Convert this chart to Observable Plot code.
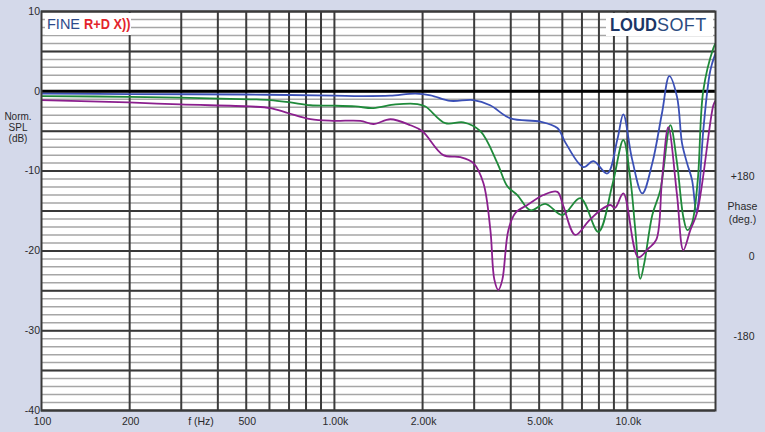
<!DOCTYPE html>
<html>
<head>
<meta charset="utf-8">
<script src="https://cdn.jsdelivr.net/npm/d3@7"></script>
<script src="https://cdn.jsdelivr.net/npm/@observablehq/plot@0.6"></script>
<style>
  html, body { margin: 0; padding: 0; background: #d4d9ea; }
  #wrap { position: relative; width: 765px; height: 432px; font-family: "Liberation Sans", Arial, sans-serif; }
  .logo { position: absolute; background: #ffffff; overflow: hidden; white-space: nowrap; }
  .logo span { position: absolute; }
</style>
</head>
<body>
<div id="wrap"></div>
<script>
// ---- Data ----
const blueFreq = [100, 200, 500, 1000, 1230, 1550, 1890, 2130, 2490, 2980, 3400, 3990, 5050, 5770, 6140, 7080, 7660, 8540, 9250, 9690, 10380, 11250, 12170, 13130, 13910, 14780, 15370, 15990, 16630, 17200, 17470, 18170, 19200, 20000];
const blueDb   = [-0.3, -0.35, -0.4, -0.55, -0.6, -0.55, -0.3, -0.5, -1.2, -1.1, -1.75, -3.4, -3.8, -4.6, -6.4, -9.5, -8.75, -10.3, -6.0, -2.9, -8.5, -12.8, -9.0, -2.75, 1.9, -0.7, -6.5, -9.0, -11.1, -15.2, -14.0, -4.9, 2.6, 4.75];

const greenFreq = [100, 200, 517, 605, 708, 828, 992, 1180, 1359, 1616, 1920, 2045, 2392, 2756, 3150, 3600, 3894, 4213, 4666, 5250, 6000, 6911, 7962, 8888, 9690, 10240, 10650, 11075, 11430, 12170, 12960, 14022, 14780, 15530, 16027, 16630, 17400, 18170, 19660, 20000];
const greenDb   = [-0.6, -0.7, -1.0, -1.1, -1.4, -1.75, -1.8, -1.9, -2.1, -1.65, -1.6, -1.9, -4.0, -3.9, -5.0, -9.0, -11.9, -13.0, -14.9, -14.1, -15.5, -13.4, -17.6, -11.75, -6.1, -11.0, -17.4, -23.5, -21.5, -15.5, -12.4, -4.25, -9.0, -15.75, -17.4, -16.5, -11.1, 0.1, 5.4, 6.0];

const purpleFreq = [100, 198, 298, 517, 605, 697, 828, 992, 1227, 1359, 1553, 1817, 1997, 2355, 2692, 2982, 3225, 3408, 3516, 3628, 3744, 3925, 4147, 4557, 5168, 5769, 6047, 6645, 7360, 8088, 8750, 9080, 9690, 10901, 11796, 12560, 13134, 13802, 14780, 15530, 16406, 17333, 19664, 20000];
const purpleDb   = [-1.1, -1.4, -1.65, -1.9, -2.1, -2.75, -3.5, -3.7, -3.7, -4.1, -3.5, -4.25, -5.0, -8.0, -8.25, -9.0, -11.5, -17.4, -23.6, -24.9, -23.6, -17.4, -15.25, -14.25, -13.0, -12.6, -14.4, -18.0, -16.3, -14.9, -14.25, -14.6, -12.8, -20.8, -19.7, -18.6, -11.1, -4.5, -13.0, -19.9, -17.4, -15.1, -1.75, -1.2];

// ---- Axes / grid ----
const xTicks = [100, 200, 500, 1000, 2000, 5000, 10000];
const xTickLabels = ["100", "200", "500", "1.00k", "2.00k", "5.00k", "10.0k"];
const xGrid = [200, 300, 400, 500, 600, 700, 800, 900, 1000, 2000, 3000, 4000, 5000, 6000, 7000, 8000, 9000, 10000];
const yTicks = [10, 0, -10, -20, -30, -40];
const yMinor = d3.range(-40, 11, 1);
const yMajor = d3.range(-40, 11, 5);
const phaseTicks = [180, 0, -180];
const phaseLabels = ["+180", "0", "-180"];

const toRows = (fs, ds) => fs.map((f, i) => ({f, db: ds[i]}));
const blue = toRows(blueFreq, blueDb);
const green = toRows(greenFreq, greenDb);
const purple = toRows(purpleFreq, purpleDb);

const txt = "#2a2a2a";

const chart = Plot.plot({
  width: 765,
  height: 432,
  marginLeft: 41,
  marginRight: 50,
  marginTop: 11,
  marginBottom: 22,
  style: {background: "#d4d9ea", fontFamily: "'Liberation Sans', Arial, sans-serif", color: txt},
  x: {type: "log", domain: [100, 20000]},
  y: {domain: [-40, 10]},
  marks: [
    Plot.frame({fill: "#ffffff"}),
    Plot.ruleY(yMinor, {stroke: "#a6a6a6", strokeWidth: 1.5}),
    Plot.ruleY(yMajor, {stroke: "#383838", strokeWidth: 2}),
    Plot.ruleX(xGrid, {stroke: "#3c3c3c", strokeWidth: 2}),
    Plot.ruleY([0], {stroke: "#000000", strokeWidth: 3}),
    Plot.line(blue, {x: "f", y: "db", stroke: "#3a4fb6", strokeWidth: 1.8, curve: "catmull-rom", clip: true}),
    Plot.line(green, {x: "f", y: "db", stroke: "#1f8a3a", strokeWidth: 1.8, curve: "catmull-rom", clip: true}),
    Plot.line(purple, {x: "f", y: "db", stroke: "#8b1f8e", strokeWidth: 1.8, curve: "catmull-rom", clip: true}),
    Plot.frame({stroke: "#3a3a3a", strokeWidth: 2}),
    Plot.axisY({ticks: yTicks, label: null, tickSize: 0, tickPadding: 1.5, fontSize: 10.5, tickFormat: d => String(d), fill: txt}),
    Plot.axisX({ticks: xTicks, label: null, tickSize: 0, tickPadding: 7, fontSize: 10.5, dx: 1, tickFormat: d => xTickLabels[xTicks.indexOf(d)], fill: txt}),
    Plot.text(["f (Hz)"], {frameAnchor: "bottom-left", dx: 146.7, dy: 7, lineAnchor: "top", fontSize: 10.5, fill: txt}),
    Plot.text(["Norm.\nSPL\n(dB)"], {frameAnchor: "top-left", dx: -23.5, dy: 116, lineAnchor: "middle", textAnchor: "middle", fontSize: 10, lineHeight: 1.1, fill: txt}),
    Plot.text(["Phase\n(deg.)"], {frameAnchor: "right", dx: 27, dy: 1.5, lineAnchor: "middle", textAnchor: "middle", fontSize: 10.5, lineHeight: 1.2, fill: txt}),
    Plot.text(phaseTicks, {y: p => -20 + p / 18, text: (p, i) => phaseLabels[i], frameAnchor: "right", dx: 39, dy: 6, textAnchor: "end", fontSize: 10.5, fill: txt})
  ]
});

const wrap = document.getElementById("wrap");
wrap.appendChild(chart);

// Logos (decorative text boxes)
const fine = document.createElement("div");
fine.className = "logo";
fine.style.cssText = "left:45px;top:13px;width:86px;height:22px;";
fine.innerHTML = '<span style="left:2px;top:0;line-height:22px;font-size:14.5px;color:#2d4b8c;">FINE</span>' +
  '<span style="left:38.5px;top:0;line-height:22px;font-size:15px;font-weight:bold;color:#e3242b;display:inline-block;transform:scaleX(0.85);transform-origin:left center;">R+D X))</span>';
wrap.appendChild(fine);

const loud = document.createElement("div");
loud.className = "logo";
loud.style.cssText = "left:606px;top:13px;width:107px;height:23px;";
loud.innerHTML = '<span style="left:4px;top:1px;line-height:23px;font-size:18px;font-weight:bold;color:#1b3566;display:inline-block;transform:scaleX(0.92);transform-origin:left center;">LOUD</span>' +
  '<span style="left:51px;top:1px;line-height:23px;font-size:18px;color:#2b4b80;letter-spacing:0.4px;">SOFT</span>';
wrap.appendChild(loud);
</script>
</body>
</html>
